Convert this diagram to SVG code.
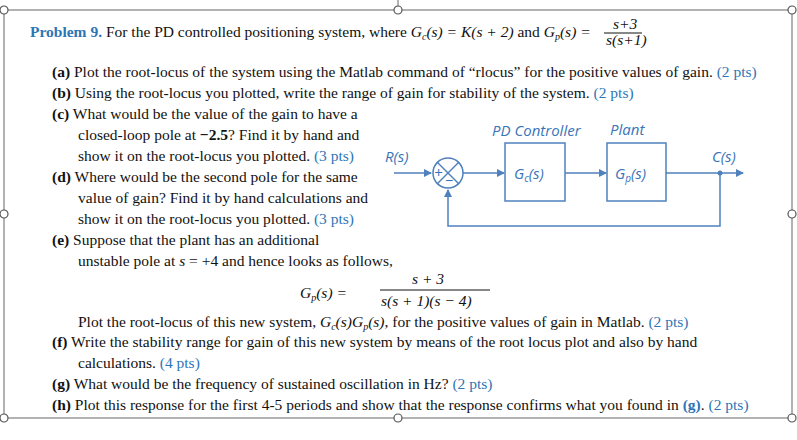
<svg xmlns="http://www.w3.org/2000/svg" width="797" height="440" viewBox="0 0 797 440">
<style>
text{font-family:"Liberation Serif",serif;font-size:15.5px;fill:#111}
.b{font-weight:bold}.p{fill:#2e75b6}.m{font-style:italic}
.d{font-family:"Open Sans","DejaVu Sans",sans-serif;font-style:italic;fill:#3a74b8;font-size:15px}
.ln{stroke:#4f81bd;stroke-width:1.5;fill:none}
.fr{stroke:#666;stroke-width:1;fill:none}
.h{fill:#fff;stroke:#555;stroke-width:1.2}
</style>
<defs><marker id="a" markerWidth="8" markerHeight="8" refX="7" refY="4" orient="auto" markerUnits="userSpaceOnUse"><path d="M0,0L8,4L0,8z" fill="#4f81bd"/></marker></defs>
<rect width="797" height="440" fill="#fff"/>
<g id="frame">
<line class="fr" x1="398" y1="0" x2="398" y2="10"/>
<rect class="fr" x="4" y="10" width="788" height="408"/>
<circle class="h" cx="4" cy="10" r="4"/><circle class="h" cx="398" cy="10" r="4"/><circle class="h" cx="792" cy="10" r="4"/>
<circle class="h" cx="4" cy="214" r="4"/><circle class="h" cx="792" cy="214" r="4"/>
<circle class="h" cx="4" cy="418" r="4"/><circle class="h" cx="398" cy="418" r="4"/><circle class="h" cx="792" cy="418" r="4"/>
</g>
<g id="text">
<text x="30" y="37"><tspan class="b p">Problem 9.</tspan> For the PD controlled positioning system, where <tspan class="m">G<tspan font-size="10" dy="3">c</tspan><tspan dy="-3">(s) = K(s + 2)</tspan></tspan> and <tspan class="m">G<tspan font-size="10" dy="3">p</tspan><tspan dy="-3">(s) =</tspan></tspan></text>
<text x="613" y="29" font-size="11" class="m">s+3</text>
<line x1="604" y1="33" x2="642" y2="33" stroke="#111"/>
<text x="606" y="45" font-size="11" class="m">s(s+1)</text>
<text x="52" y="77"><tspan class="b">(a)</tspan> Plot the root-locus of the system using the Matlab command of “rlocus” for the positive values of gain. <tspan class="p">(2 pts)</tspan></text>
<text x="52" y="98"><tspan class="b">(b)</tspan> Using the root-locus you plotted, write the range of gain for stability of the system. <tspan class="p">(2 pts)</tspan></text>
<text x="52" y="119"><tspan class="b">(c)</tspan> What would be the value of the gain to have a</text>
<text x="78" y="140">closed-loop pole at <tspan class="b">−2.5</tspan>? Find it by hand and</text>
<text x="78" y="161">show it on the root-locus you plotted. <tspan class="p">(3 pts)</tspan></text>
<text x="52" y="182"><tspan class="b">(d)</tspan> Where would be the second pole for the same</text>
<text x="78" y="203">value of gain? Find it by hand calculations and</text>
<text x="78" y="224">show it on the root-locus you plotted. <tspan class="p">(3 pts)</tspan></text>
<text x="52" y="245"><tspan class="b">(e)</tspan> Suppose that the plant has an additional</text>
<text x="78" y="266">unstable pole at <tspan class="m">s</tspan> = +4 and hence looks as follows,</text>
<text x="300" y="298" class="m">G<tspan font-size="10" dy="3">p</tspan><tspan dy="-3">(s) =</tspan></text>
<text x="412" y="284" class="m" font-size="16">s + 3</text>
<line x1="380" y1="290" x2="490" y2="290" stroke="#111"/>
<text x="381" y="306" class="m" font-size="16">s(s + 1)(s − 4)</text>
<text x="78" y="327">Plot the root-locus of this new system, <tspan class="m">G<tspan font-size="10" dy="3">c</tspan><tspan dy="-3">(s)G</tspan><tspan font-size="10" dy="3">p</tspan><tspan dy="-3">(s)</tspan></tspan>, for the positive values of gain in Matlab. <tspan class="p">(2 pts)</tspan></text>
<text x="52" y="347"><tspan class="b">(f)</tspan> Write the stability range for gain of this new system by means of the root locus plot and also by hand</text>
<text x="78" y="368">calculations. <tspan class="p">(4 pts)</tspan></text>
<text x="52" y="389"><tspan class="b">(g)</tspan> What would be the frequency of sustained oscillation in Hz? <tspan class="p">(2 pts)</tspan></text>
<text x="52" y="410"><tspan class="b">(h)</tspan> Plot this response for the first 4-5 periods and show that the response confirms what you found in <tspan class="b p">(g)</tspan>. <tspan class="p">(2 pts)</tspan></text>
</g>
<g id="connectors">
<line class="ln" x1="394" y1="173" x2="431" y2="173" marker-end="url(#a)"/>
<line class="ln" x1="463" y1="173" x2="504" y2="173" marker-end="url(#a)"/>
<line class="ln" x1="565" y1="173" x2="606" y2="173" marker-end="url(#a)"/>
<line class="ln" x1="666" y1="173" x2="743" y2="173" marker-end="url(#a)"/>
<polyline class="ln" points="720,173 720,226 448,226 448,190" marker-end="url(#a)"/>
<circle cx="720" cy="173" r="2.5" fill="#4f81bd"/>
</g>
<g id="sum"><circle class="ln" cx="448" cy="173" r="15"/><line class="ln" x1="437" y1="162" x2="459" y2="184"/><line class="ln" x1="459" y1="162" x2="437" y2="184"/>
<text x="434" y="178" class="d" font-size="11" font-style="normal">+</text><text x="445" y="186" class="d" font-size="11" font-style="normal">−</text></g>
<g id="gc"><rect class="ln" x="505" y="143" width="60" height="58"/><text x="514" y="179" class="d">G<tspan font-size="10" dy="3">c</tspan><tspan dy="-3">(s)</tspan></text></g>
<g id="gp"><rect class="ln" x="607" y="143" width="59" height="58"/><text x="615" y="179" class="d">G<tspan font-size="10" dy="3">p</tspan><tspan dy="-3">(s)</tspan></text></g>
<text x="492" y="136" class="d">PD Controller</text>
<text x="610" y="135" class="d">Plant</text>
<text x="385" y="162" class="d" font-size="16">R(s)</text>
<text x="712" y="162" class="d" font-size="16">C(s)</text>
</svg>
